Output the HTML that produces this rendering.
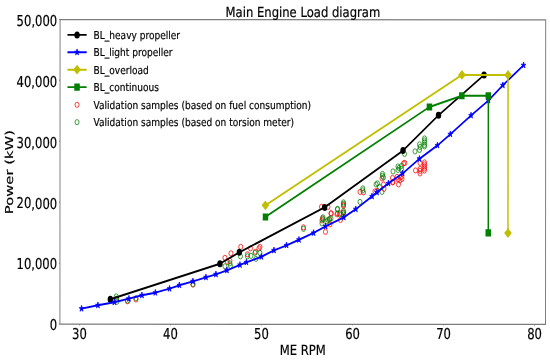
<!DOCTYPE html>
<html lang="en"><head><meta charset="utf-8"><title>Main Engine Load diagram</title>
<style>html,body{margin:0;padding:0;background:#fff;overflow:hidden}svg text{white-space:pre}</style>
</head><body>
<svg width="550" height="360" viewBox="0 0 550 360" style="display:block">
<rect width="550" height="360" fill="#fff"/>
<g transform="rotate(0.03 275 180) scale(0.775,1)" font-family="'DejaVu Sans', 'Liberation Sans', sans-serif" fill="#000" stroke="none">
<circle cx="150.45" cy="299.35" r="2.6" fill="none" stroke="#ff0000" stroke-width="0.85" stroke-opacity="1"/>
<circle cx="164.52" cy="301.35" r="2.6" fill="none" stroke="#ff0000" stroke-width="0.85" stroke-opacity="1"/>
<circle cx="175.48" cy="299.55" r="2.6" fill="none" stroke="#ff0000" stroke-width="0.85" stroke-opacity="1"/>
<circle cx="249.03" cy="284.65" r="2.6" fill="none" stroke="#ff0000" stroke-width="0.85" stroke-opacity="1"/>
<circle cx="290.32" cy="257.85" r="2.6" fill="none" stroke="#ff0000" stroke-width="0.85" stroke-opacity="1"/>
<circle cx="298.06" cy="253.35" r="2.6" fill="none" stroke="#ff0000" stroke-width="0.85" stroke-opacity="1"/>
<circle cx="296.77" cy="260.85" r="2.6" fill="none" stroke="#ff0000" stroke-width="0.85" stroke-opacity="1"/>
<circle cx="293.55" cy="261.85" r="2.6" fill="none" stroke="#ff0000" stroke-width="0.85" stroke-opacity="1"/>
<circle cx="310.71" cy="246.85" r="2.6" fill="none" stroke="#ff0000" stroke-width="0.85" stroke-opacity="1"/>
<circle cx="323.23" cy="248.35" r="2.6" fill="none" stroke="#ff0000" stroke-width="0.85" stroke-opacity="1"/>
<circle cx="319.35" cy="254.35" r="2.6" fill="none" stroke="#ff0000" stroke-width="0.85" stroke-opacity="1"/>
<circle cx="329.68" cy="251.85" r="2.6" fill="none" stroke="#ff0000" stroke-width="0.85" stroke-opacity="1"/>
<circle cx="335.48" cy="246.85" r="2.6" fill="none" stroke="#ff0000" stroke-width="0.85" stroke-opacity="1"/>
<circle cx="334.19" cy="248.35" r="2.6" fill="none" stroke="#ff0000" stroke-width="0.85" stroke-opacity="1"/>
<circle cx="391.61" cy="227.35" r="2.6" fill="none" stroke="#ff0000" stroke-width="0.85" stroke-opacity="1"/>
<circle cx="420" cy="231.85" r="2.6" fill="none" stroke="#ff0000" stroke-width="0.85" stroke-opacity="1"/>
<circle cx="415.48" cy="220.35" r="2.6" fill="none" stroke="#ff0000" stroke-width="0.85" stroke-opacity="1"/>
<circle cx="416.13" cy="218.35" r="2.6" fill="none" stroke="#ff0000" stroke-width="0.85" stroke-opacity="1"/>
<circle cx="414.84" cy="206.85" r="2.6" fill="none" stroke="#ff0000" stroke-width="0.85" stroke-opacity="1"/>
<circle cx="423.23" cy="206.85" r="2.6" fill="none" stroke="#ff0000" stroke-width="0.85" stroke-opacity="1"/>
<circle cx="427.35" cy="213.35" r="2.6" fill="none" stroke="#ff0000" stroke-width="0.85" stroke-opacity="1"/>
<circle cx="425.81" cy="224.35" r="2.6" fill="none" stroke="#ff0000" stroke-width="0.85" stroke-opacity="1"/>
<circle cx="425.16" cy="219.85" r="2.6" fill="none" stroke="#ff0000" stroke-width="0.85" stroke-opacity="1"/>
<circle cx="434.84" cy="214.35" r="2.6" fill="none" stroke="#ff0000" stroke-width="0.85" stroke-opacity="1"/>
<circle cx="439.35" cy="219.85" r="2.6" fill="none" stroke="#ff0000" stroke-width="0.85" stroke-opacity="1"/>
<circle cx="443.23" cy="205.85" r="2.6" fill="none" stroke="#ff0000" stroke-width="0.85" stroke-opacity="1"/>
<circle cx="443.23" cy="212.35" r="2.6" fill="none" stroke="#ff0000" stroke-width="0.85" stroke-opacity="1"/>
<circle cx="427.1" cy="213.35" r="2.6" fill="none" stroke="#ff0000" stroke-width="0.85" stroke-opacity="1"/>
<circle cx="435.48" cy="213.35" r="2.6" fill="none" stroke="#ff0000" stroke-width="0.85" stroke-opacity="1"/>
<circle cx="438.71" cy="213.35" r="2.6" fill="none" stroke="#ff0000" stroke-width="0.85" stroke-opacity="1"/>
<circle cx="443.23" cy="204.85" r="2.6" fill="none" stroke="#ff0000" stroke-width="0.85" stroke-opacity="1"/>
<circle cx="464.52" cy="191.85" r="2.6" fill="none" stroke="#ff0000" stroke-width="0.85" stroke-opacity="1"/>
<circle cx="469.03" cy="192.35" r="2.6" fill="none" stroke="#ff0000" stroke-width="0.85" stroke-opacity="1"/>
<circle cx="483.87" cy="191.35" r="2.6" fill="none" stroke="#ff0000" stroke-width="0.85" stroke-opacity="1"/>
<circle cx="486.45" cy="190.85" r="2.6" fill="none" stroke="#ff0000" stroke-width="0.85" stroke-opacity="1"/>
<circle cx="494.84" cy="184.35" r="2.6" fill="none" stroke="#ff0000" stroke-width="0.85" stroke-opacity="1"/>
<circle cx="495.48" cy="188.85" r="2.6" fill="none" stroke="#ff0000" stroke-width="0.85" stroke-opacity="1"/>
<circle cx="492.9" cy="178.35" r="2.6" fill="none" stroke="#ff0000" stroke-width="0.85" stroke-opacity="1"/>
<circle cx="506.45" cy="177.85" r="2.6" fill="none" stroke="#ff0000" stroke-width="0.85" stroke-opacity="1"/>
<circle cx="507.1" cy="181.85" r="2.6" fill="none" stroke="#ff0000" stroke-width="0.85" stroke-opacity="1"/>
<circle cx="513.55" cy="179.35" r="2.6" fill="none" stroke="#ff0000" stroke-width="0.85" stroke-opacity="1"/>
<circle cx="516.13" cy="180.35" r="2.6" fill="none" stroke="#ff0000" stroke-width="0.85" stroke-opacity="1"/>
<circle cx="518.71" cy="178.85" r="2.6" fill="none" stroke="#ff0000" stroke-width="0.85" stroke-opacity="1"/>
<circle cx="514.19" cy="184.35" r="2.6" fill="none" stroke="#ff0000" stroke-width="0.85" stroke-opacity="1"/>
<circle cx="520.65" cy="163.35" r="2.6" fill="none" stroke="#ff0000" stroke-width="0.85" stroke-opacity="1"/>
<circle cx="506.45" cy="182.35" r="2.6" fill="none" stroke="#ff0000" stroke-width="0.85" stroke-opacity="1"/>
<circle cx="517.42" cy="176.85" r="2.6" fill="none" stroke="#ff0000" stroke-width="0.85" stroke-opacity="1"/>
<circle cx="512.26" cy="176.85" r="2.6" fill="none" stroke="#ff0000" stroke-width="0.85" stroke-opacity="1"/>
<circle cx="522.32" cy="162.85" r="2.6" fill="none" stroke="#ff0000" stroke-width="0.85" stroke-opacity="1"/>
<circle cx="541.94" cy="162.85" r="2.6" fill="none" stroke="#ff0000" stroke-width="0.85" stroke-opacity="1"/>
<circle cx="547.74" cy="162.35" r="2.6" fill="none" stroke="#ff0000" stroke-width="0.85" stroke-opacity="1"/>
<circle cx="547.74" cy="164.35" r="2.6" fill="none" stroke="#ff0000" stroke-width="0.85" stroke-opacity="1"/>
<circle cx="547.74" cy="166.35" r="2.6" fill="none" stroke="#ff0000" stroke-width="0.85" stroke-opacity="1"/>
<circle cx="547.74" cy="168.35" r="2.6" fill="none" stroke="#ff0000" stroke-width="0.85" stroke-opacity="1"/>
<circle cx="547.74" cy="170.35" r="2.6" fill="none" stroke="#ff0000" stroke-width="0.85" stroke-opacity="1"/>
<circle cx="536.13" cy="170.35" r="2.6" fill="none" stroke="#ff0000" stroke-width="0.85" stroke-opacity="1"/>
<circle cx="541.94" cy="168.85" r="2.6" fill="none" stroke="#ff0000" stroke-width="0.85" stroke-opacity="1"/>
<circle cx="541.94" cy="170.85" r="2.6" fill="none" stroke="#ff0000" stroke-width="0.85" stroke-opacity="1"/>
<circle cx="541.94" cy="173.35" r="2.6" fill="none" stroke="#ff0000" stroke-width="0.85" stroke-opacity="1"/>
<circle cx="150.06" cy="296.55" r="2.6" fill="none" stroke="#008000" stroke-width="0.85" stroke-opacity="1"/>
<circle cx="150.71" cy="298.85" r="2.6" fill="none" stroke="#008000" stroke-width="0.85" stroke-opacity="1"/>
<circle cx="150.97" cy="301.85" r="2.6" fill="none" stroke="#008000" stroke-width="0.85" stroke-opacity="1"/>
<circle cx="164.52" cy="300.65" r="2.6" fill="none" stroke="#008000" stroke-width="0.85" stroke-opacity="1"/>
<circle cx="175.48" cy="298.35" r="2.6" fill="none" stroke="#008000" stroke-width="0.85" stroke-opacity="1"/>
<circle cx="249.03" cy="284.05" r="2.6" fill="none" stroke="#008000" stroke-width="0.85" stroke-opacity="1"/>
<circle cx="290.32" cy="266.35" r="2.6" fill="none" stroke="#008000" stroke-width="0.85" stroke-opacity="1"/>
<circle cx="297.42" cy="265.85" r="2.6" fill="none" stroke="#008000" stroke-width="0.85" stroke-opacity="1"/>
<circle cx="296.77" cy="263.35" r="2.6" fill="none" stroke="#008000" stroke-width="0.85" stroke-opacity="1"/>
<circle cx="310.32" cy="256.35" r="2.6" fill="none" stroke="#008000" stroke-width="0.85" stroke-opacity="1"/>
<circle cx="319.35" cy="256.35" r="2.6" fill="none" stroke="#008000" stroke-width="0.85" stroke-opacity="1"/>
<circle cx="323.87" cy="255.85" r="2.6" fill="none" stroke="#008000" stroke-width="0.85" stroke-opacity="1"/>
<circle cx="330.32" cy="258.85" r="2.6" fill="none" stroke="#008000" stroke-width="0.85" stroke-opacity="1"/>
<circle cx="335.48" cy="252.85" r="2.6" fill="none" stroke="#008000" stroke-width="0.85" stroke-opacity="1"/>
<circle cx="329.03" cy="252.85" r="2.6" fill="none" stroke="#008000" stroke-width="0.85" stroke-opacity="1"/>
<circle cx="391.61" cy="228.85" r="2.6" fill="none" stroke="#008000" stroke-width="0.85" stroke-opacity="1"/>
<circle cx="416.77" cy="217.35" r="2.6" fill="none" stroke="#008000" stroke-width="0.85" stroke-opacity="1"/>
<circle cx="416.77" cy="219.35" r="2.6" fill="none" stroke="#008000" stroke-width="0.85" stroke-opacity="1"/>
<circle cx="415.48" cy="223.35" r="2.6" fill="none" stroke="#008000" stroke-width="0.85" stroke-opacity="1"/>
<circle cx="423.23" cy="219.85" r="2.6" fill="none" stroke="#008000" stroke-width="0.85" stroke-opacity="1"/>
<circle cx="425.16" cy="218.85" r="2.6" fill="none" stroke="#008000" stroke-width="0.85" stroke-opacity="1"/>
<circle cx="427.1" cy="218.35" r="2.6" fill="none" stroke="#008000" stroke-width="0.85" stroke-opacity="1"/>
<circle cx="421.94" cy="221.35" r="2.6" fill="none" stroke="#008000" stroke-width="0.85" stroke-opacity="1"/>
<circle cx="435.48" cy="209.35" r="2.6" fill="none" stroke="#008000" stroke-width="0.85" stroke-opacity="1"/>
<circle cx="438.06" cy="214.35" r="2.6" fill="none" stroke="#008000" stroke-width="0.85" stroke-opacity="1"/>
<circle cx="443.23" cy="202.35" r="2.6" fill="none" stroke="#008000" stroke-width="0.85" stroke-opacity="1"/>
<circle cx="443.23" cy="203.85" r="2.6" fill="none" stroke="#008000" stroke-width="0.85" stroke-opacity="1"/>
<circle cx="443.23" cy="210.85" r="2.6" fill="none" stroke="#008000" stroke-width="0.85" stroke-opacity="1"/>
<circle cx="443.23" cy="212.85" r="2.6" fill="none" stroke="#008000" stroke-width="0.85" stroke-opacity="1"/>
<circle cx="443.23" cy="214.35" r="2.6" fill="none" stroke="#008000" stroke-width="0.85" stroke-opacity="1"/>
<circle cx="435.48" cy="208.85" r="2.6" fill="none" stroke="#008000" stroke-width="0.85" stroke-opacity="1"/>
<circle cx="464.52" cy="201.85" r="2.6" fill="none" stroke="#008000" stroke-width="0.85" stroke-opacity="1"/>
<circle cx="468.13" cy="188.35" r="2.6" fill="none" stroke="#008000" stroke-width="0.85" stroke-opacity="1"/>
<circle cx="468.13" cy="190.35" r="2.6" fill="none" stroke="#008000" stroke-width="0.85" stroke-opacity="1"/>
<circle cx="485.16" cy="184.35" r="2.6" fill="none" stroke="#008000" stroke-width="0.85" stroke-opacity="1"/>
<circle cx="487.1" cy="183.35" r="2.6" fill="none" stroke="#008000" stroke-width="0.85" stroke-opacity="1"/>
<circle cx="489.68" cy="186.85" r="2.6" fill="none" stroke="#008000" stroke-width="0.85" stroke-opacity="1"/>
<circle cx="492.9" cy="191.85" r="2.6" fill="none" stroke="#008000" stroke-width="0.85" stroke-opacity="1"/>
<circle cx="493.55" cy="173.85" r="2.6" fill="none" stroke="#008000" stroke-width="0.85" stroke-opacity="1"/>
<circle cx="493.55" cy="175.85" r="2.6" fill="none" stroke="#008000" stroke-width="0.85" stroke-opacity="1"/>
<circle cx="494.84" cy="177.35" r="2.6" fill="none" stroke="#008000" stroke-width="0.85" stroke-opacity="1"/>
<circle cx="507.1" cy="171.35" r="2.6" fill="none" stroke="#008000" stroke-width="0.85" stroke-opacity="1"/>
<circle cx="513.55" cy="166.35" r="2.6" fill="none" stroke="#008000" stroke-width="0.85" stroke-opacity="1"/>
<circle cx="514.84" cy="167.85" r="2.6" fill="none" stroke="#008000" stroke-width="0.85" stroke-opacity="1"/>
<circle cx="513.55" cy="169.85" r="2.6" fill="none" stroke="#008000" stroke-width="0.85" stroke-opacity="1"/>
<circle cx="518.06" cy="165.85" r="2.6" fill="none" stroke="#008000" stroke-width="0.85" stroke-opacity="1"/>
<circle cx="518.06" cy="168.85" r="2.6" fill="none" stroke="#008000" stroke-width="0.85" stroke-opacity="1"/>
<circle cx="521.94" cy="153.85" r="2.6" fill="none" stroke="#008000" stroke-width="0.85" stroke-opacity="1"/>
<circle cx="535.48" cy="151.35" r="2.6" fill="none" stroke="#008000" stroke-width="0.85" stroke-opacity="1"/>
<circle cx="541.29" cy="149.85" r="2.6" fill="none" stroke="#008000" stroke-width="0.85" stroke-opacity="1"/>
<circle cx="541.29" cy="144.35" r="2.6" fill="none" stroke="#008000" stroke-width="0.85" stroke-opacity="1"/>
<circle cx="541.94" cy="146.85" r="2.6" fill="none" stroke="#008000" stroke-width="0.85" stroke-opacity="1"/>
<circle cx="547.74" cy="138.35" r="2.6" fill="none" stroke="#008000" stroke-width="0.85" stroke-opacity="1"/>
<circle cx="547.74" cy="140.35" r="2.6" fill="none" stroke="#008000" stroke-width="0.85" stroke-opacity="1"/>
<circle cx="547.74" cy="142.35" r="2.6" fill="none" stroke="#008000" stroke-width="0.85" stroke-opacity="1"/>
<circle cx="547.74" cy="144.85" r="2.6" fill="none" stroke="#008000" stroke-width="0.85" stroke-opacity="1"/>
<circle cx="547.74" cy="146.35" r="2.6" fill="none" stroke="#008000" stroke-width="0.85" stroke-opacity="1"/>
<polyline fill="none" stroke="#000" stroke-width="1.9" stroke-linejoin="round" points="142.45,299.35 283.87,263.75 308.9,252.35 418.84,207.35 520,150.55 565.81,115.15 624.52,74.85"/>
<circle cx="142.45" cy="299.35" r="3.5" fill="#000"/>
<circle cx="283.87" cy="263.75" r="3.5" fill="#000"/>
<circle cx="308.9" cy="252.35" r="3.5" fill="#000"/>
<circle cx="418.84" cy="207.35" r="3.5" fill="#000"/>
<circle cx="520" cy="150.55" r="3.5" fill="#000"/>
<circle cx="565.81" cy="115.15" r="3.5" fill="#000"/>
<circle cx="624.52" cy="74.85" r="3.5" fill="#000"/>
<polyline fill="none" stroke="#0000ff" stroke-width="1.9" stroke-linejoin="round" points="105.29,308.75 126.45,305.35 147.61,302.35 166.45,298.75 183.23,295.35 200.52,292.75 218.84,288.75 231.48,285.35 249.03,281.35 265.81,277.35 278.71,274.35 292.9,270.35 309.68,264.95 317.94,262.35 337.29,256.75 353.55,250.35 369.81,245.35 385.81,239.75 404.65,232.95 420.13,226.35 443.61,217.35 459.1,209.15 480,196.35 486.45,192.35 501.16,183.35 519.48,173.35 541.16,158.75 564.39,145.35 581.03,134.15 607.74,115.35 630.19,100.35 648.77,85.15 675.48,65.15"/>
<polygon fill="#0000ff" stroke="#0000ff" stroke-width="0.8" stroke-linejoin="miter" points="105.29,305.45 106.03,307.73 108.43,307.73 106.49,309.14 107.23,311.42 105.29,310.01 103.35,311.42 104.09,309.14 102.15,307.73 104.55,307.73"/>
<polygon fill="#0000ff" stroke="#0000ff" stroke-width="0.8" stroke-linejoin="miter" points="126.45,302.05 127.19,304.33 129.59,304.33 127.65,305.74 128.39,308.02 126.45,306.61 124.51,308.02 125.25,305.74 123.31,304.33 125.71,304.33"/>
<polygon fill="#0000ff" stroke="#0000ff" stroke-width="0.8" stroke-linejoin="miter" points="147.61,299.05 148.35,301.33 150.75,301.33 148.81,302.74 149.55,305.02 147.61,303.61 145.67,305.02 146.41,302.74 144.47,301.33 146.87,301.33"/>
<polygon fill="#0000ff" stroke="#0000ff" stroke-width="0.8" stroke-linejoin="miter" points="166.45,295.45 167.19,297.73 169.59,297.73 167.65,299.14 168.39,301.42 166.45,300.01 164.51,301.42 165.25,299.14 163.31,297.73 165.71,297.73"/>
<polygon fill="#0000ff" stroke="#0000ff" stroke-width="0.8" stroke-linejoin="miter" points="183.23,292.05 183.97,294.33 186.36,294.33 184.42,295.74 185.17,298.02 183.23,296.61 181.29,298.02 182.03,295.74 180.09,294.33 182.48,294.33"/>
<polygon fill="#0000ff" stroke="#0000ff" stroke-width="0.8" stroke-linejoin="miter" points="200.52,289.45 201.26,291.73 203.65,291.73 201.71,293.14 202.46,295.42 200.52,294.01 198.58,295.42 199.32,293.14 197.38,291.73 199.78,291.73"/>
<polygon fill="#0000ff" stroke="#0000ff" stroke-width="0.8" stroke-linejoin="miter" points="218.84,285.45 219.58,287.73 221.98,287.73 220.04,289.14 220.78,291.42 218.84,290.01 216.9,291.42 217.64,289.14 215.7,287.73 218.1,287.73"/>
<polygon fill="#0000ff" stroke="#0000ff" stroke-width="0.8" stroke-linejoin="miter" points="231.48,282.05 232.22,284.33 234.62,284.33 232.68,285.74 233.42,288.02 231.48,286.61 229.54,288.02 230.29,285.74 228.35,284.33 230.74,284.33"/>
<polygon fill="#0000ff" stroke="#0000ff" stroke-width="0.8" stroke-linejoin="miter" points="249.03,278.05 249.77,280.33 252.17,280.33 250.23,281.74 250.97,284.02 249.03,282.61 247.09,284.02 247.83,281.74 245.89,280.33 248.29,280.33"/>
<polygon fill="#0000ff" stroke="#0000ff" stroke-width="0.8" stroke-linejoin="miter" points="265.81,274.05 266.55,276.33 268.94,276.33 267.01,277.74 267.75,280.02 265.81,278.61 263.87,280.02 264.61,277.74 262.67,276.33 265.07,276.33"/>
<polygon fill="#0000ff" stroke="#0000ff" stroke-width="0.8" stroke-linejoin="miter" points="278.71,271.05 279.45,273.33 281.85,273.33 279.91,274.74 280.65,277.02 278.71,275.61 276.77,277.02 277.51,274.74 275.57,273.33 277.97,273.33"/>
<polygon fill="#0000ff" stroke="#0000ff" stroke-width="0.8" stroke-linejoin="miter" points="292.9,267.05 293.64,269.33 296.04,269.33 294.1,270.74 294.84,273.02 292.9,271.61 290.96,273.02 291.7,270.74 289.76,269.33 292.16,269.33"/>
<polygon fill="#0000ff" stroke="#0000ff" stroke-width="0.8" stroke-linejoin="miter" points="309.68,261.65 310.42,263.93 312.82,263.93 310.88,265.34 311.62,267.62 309.68,266.21 307.74,267.62 308.48,265.34 306.54,263.93 308.94,263.93"/>
<polygon fill="#0000ff" stroke="#0000ff" stroke-width="0.8" stroke-linejoin="miter" points="317.94,259.05 318.68,261.33 321.07,261.33 319.13,262.74 319.88,265.02 317.94,263.61 316,265.02 316.74,262.74 314.8,261.33 317.19,261.33"/>
<polygon fill="#0000ff" stroke="#0000ff" stroke-width="0.8" stroke-linejoin="miter" points="337.29,253.45 338.03,255.73 340.43,255.73 338.49,257.14 339.23,259.42 337.29,258.01 335.35,259.42 336.09,257.14 334.15,255.73 336.55,255.73"/>
<polygon fill="#0000ff" stroke="#0000ff" stroke-width="0.8" stroke-linejoin="miter" points="353.55,247.05 354.29,249.33 356.69,249.33 354.75,250.74 355.49,253.02 353.55,251.61 351.61,253.02 352.35,250.74 350.41,249.33 352.81,249.33"/>
<polygon fill="#0000ff" stroke="#0000ff" stroke-width="0.8" stroke-linejoin="miter" points="369.81,242.05 370.55,244.33 372.94,244.33 371.01,245.74 371.75,248.02 369.81,246.61 367.87,248.02 368.61,245.74 366.67,244.33 369.07,244.33"/>
<polygon fill="#0000ff" stroke="#0000ff" stroke-width="0.8" stroke-linejoin="miter" points="385.81,236.45 386.55,238.73 388.94,238.73 387.01,240.14 387.75,242.42 385.81,241.01 383.87,242.42 384.61,240.14 382.67,238.73 385.07,238.73"/>
<polygon fill="#0000ff" stroke="#0000ff" stroke-width="0.8" stroke-linejoin="miter" points="404.65,229.65 405.39,231.93 407.78,231.93 405.84,233.34 406.58,235.62 404.65,234.21 402.71,235.62 403.45,233.34 401.51,231.93 403.9,231.93"/>
<polygon fill="#0000ff" stroke="#0000ff" stroke-width="0.8" stroke-linejoin="miter" points="420.13,223.05 420.87,225.33 423.27,225.33 421.33,226.74 422.07,229.02 420.13,227.61 418.19,229.02 418.93,226.74 416.99,225.33 419.39,225.33"/>
<polygon fill="#0000ff" stroke="#0000ff" stroke-width="0.8" stroke-linejoin="miter" points="443.61,214.05 444.35,216.33 446.75,216.33 444.81,217.74 445.55,220.02 443.61,218.61 441.67,220.02 442.41,217.74 440.47,216.33 442.87,216.33"/>
<polygon fill="#0000ff" stroke="#0000ff" stroke-width="0.8" stroke-linejoin="miter" points="459.1,205.85 459.84,208.13 462.24,208.13 460.3,209.54 461.04,211.82 459.1,210.41 457.16,211.82 457.9,209.54 455.96,208.13 458.36,208.13"/>
<polygon fill="#0000ff" stroke="#0000ff" stroke-width="0.8" stroke-linejoin="miter" points="480,193.05 480.74,195.33 483.14,195.33 481.2,196.74 481.94,199.02 480,197.61 478.06,199.02 478.8,196.74 476.86,195.33 479.26,195.33"/>
<polygon fill="#0000ff" stroke="#0000ff" stroke-width="0.8" stroke-linejoin="miter" points="486.45,189.05 487.19,191.33 489.59,191.33 487.65,192.74 488.39,195.02 486.45,193.61 484.51,195.02 485.25,192.74 483.31,191.33 485.71,191.33"/>
<polygon fill="#0000ff" stroke="#0000ff" stroke-width="0.8" stroke-linejoin="miter" points="501.16,180.05 501.9,182.33 504.3,182.33 502.36,183.74 503.1,186.02 501.16,184.61 499.22,186.02 499.96,183.74 498.02,182.33 500.42,182.33"/>
<polygon fill="#0000ff" stroke="#0000ff" stroke-width="0.8" stroke-linejoin="miter" points="519.48,170.05 520.22,172.33 522.62,172.33 520.68,173.74 521.42,176.02 519.48,174.61 517.54,176.02 518.29,173.74 516.35,172.33 518.74,172.33"/>
<polygon fill="#0000ff" stroke="#0000ff" stroke-width="0.8" stroke-linejoin="miter" points="541.16,155.45 541.9,157.73 544.3,157.73 542.36,159.14 543.1,161.42 541.16,160.01 539.22,161.42 539.96,159.14 538.02,157.73 540.42,157.73"/>
<polygon fill="#0000ff" stroke="#0000ff" stroke-width="0.8" stroke-linejoin="miter" points="564.39,142.05 565.13,144.33 567.53,144.33 565.59,145.74 566.33,148.02 564.39,146.61 562.45,148.02 563.19,145.74 561.25,144.33 563.65,144.33"/>
<polygon fill="#0000ff" stroke="#0000ff" stroke-width="0.8" stroke-linejoin="miter" points="581.03,130.85 581.77,133.13 584.17,133.13 582.23,134.54 582.97,136.82 581.03,135.41 579.09,136.82 579.83,134.54 577.89,133.13 580.29,133.13"/>
<polygon fill="#0000ff" stroke="#0000ff" stroke-width="0.8" stroke-linejoin="miter" points="607.74,112.05 608.48,114.33 610.88,114.33 608.94,115.74 609.68,118.02 607.74,116.61 605.8,118.02 606.54,115.74 604.6,114.33 607,114.33"/>
<polygon fill="#0000ff" stroke="#0000ff" stroke-width="0.8" stroke-linejoin="miter" points="630.19,97.05 630.93,99.33 633.33,99.33 631.39,100.74 632.13,103.02 630.19,101.61 628.25,103.02 628.99,100.74 627.06,99.33 629.45,99.33"/>
<polygon fill="#0000ff" stroke="#0000ff" stroke-width="0.8" stroke-linejoin="miter" points="648.77,81.85 649.52,84.13 651.91,84.13 649.97,85.54 650.71,87.82 648.77,86.41 646.83,87.82 647.58,85.54 645.64,84.13 648.03,84.13"/>
<polygon fill="#0000ff" stroke="#0000ff" stroke-width="0.8" stroke-linejoin="miter" points="675.48,61.85 676.22,64.13 678.62,64.13 676.68,65.54 677.42,67.82 675.48,66.41 673.54,67.82 674.29,65.54 672.35,64.13 674.74,64.13"/>
<polyline fill="none" stroke="#bfbf00" stroke-width="1.9" stroke-linejoin="round" points="342.45,205.35 596,74.85 655.48,74.85 655.48,232.95"/>
<polygon fill="#bfbf00" points="342.45,200.45 347.35,205.35 342.45,210.25 337.55,205.35"/>
<polygon fill="#bfbf00" points="596,69.95 600.9,74.85 596,79.75 591.1,74.85"/>
<polygon fill="#bfbf00" points="655.48,69.95 660.38,74.85 655.48,79.75 650.58,74.85"/>
<polygon fill="#bfbf00" points="655.48,228.05 660.38,232.95 655.48,237.85 650.58,232.95"/>
<polyline fill="none" stroke="#008000" stroke-width="1.9" stroke-linejoin="round" points="342.58,216.95 554.06,106.95 595.87,95.65 630.06,95.65 630.06,232.75"/>
<rect x="339.03" y="213.4" width="7.1" height="7.1" fill="#008000"/>
<rect x="550.51" y="103.4" width="7.1" height="7.1" fill="#008000"/>
<rect x="592.32" y="92.1" width="7.1" height="7.1" fill="#008000"/>
<rect x="626.51" y="92.1" width="7.1" height="7.1" fill="#008000"/>
<rect x="626.51" y="229.2" width="7.1" height="7.1" fill="#008000"/>
<rect x="77.42" y="19.65" width="626.58" height="304.65" fill="none" stroke="#7c7c7c" stroke-width="1.25"/>
<line x1="102.58" y1="324.3" x2="102.58" y2="325.5" stroke="#7c7c7c" stroke-width="1"/>
<text x="102.58" y="339.05" font-size="15" text-anchor="middle" stroke="#000" stroke-width="0.2">30</text>
<line x1="220.05" y1="324.3" x2="220.05" y2="325.5" stroke="#7c7c7c" stroke-width="1"/>
<text x="220.05" y="339.05" font-size="15" text-anchor="middle" stroke="#000" stroke-width="0.2">40</text>
<line x1="337.52" y1="324.3" x2="337.52" y2="325.5" stroke="#7c7c7c" stroke-width="1"/>
<text x="337.52" y="339.05" font-size="15" text-anchor="middle" stroke="#000" stroke-width="0.2">50</text>
<line x1="454.99" y1="324.3" x2="454.99" y2="325.5" stroke="#7c7c7c" stroke-width="1"/>
<text x="454.99" y="339.05" font-size="15" text-anchor="middle" stroke="#000" stroke-width="0.2">60</text>
<line x1="572.46" y1="324.3" x2="572.46" y2="325.5" stroke="#7c7c7c" stroke-width="1"/>
<text x="572.46" y="339.05" font-size="15" text-anchor="middle" stroke="#000" stroke-width="0.2">70</text>
<line x1="689.94" y1="324.3" x2="689.94" y2="325.5" stroke="#7c7c7c" stroke-width="1"/>
<text x="689.94" y="339.05" font-size="15" text-anchor="middle" stroke="#000" stroke-width="0.2">80</text>
<line x1="76.12" y1="324.3" x2="77.42" y2="324.3" stroke="#7c7c7c" stroke-width="1"/>
<text x="73.81" y="330.55" font-size="15" text-anchor="end" stroke="#000" stroke-width="0.2">0</text>
<line x1="76.12" y1="263.34" x2="77.42" y2="263.34" stroke="#7c7c7c" stroke-width="1"/>
<text x="73.81" y="269.59" font-size="15" text-anchor="end" stroke="#000" stroke-width="0.2">10,000</text>
<line x1="76.12" y1="202.38" x2="77.42" y2="202.38" stroke="#7c7c7c" stroke-width="1"/>
<text x="73.81" y="208.63" font-size="15" text-anchor="end" stroke="#000" stroke-width="0.2">20,000</text>
<line x1="76.12" y1="141.42" x2="77.42" y2="141.42" stroke="#7c7c7c" stroke-width="1"/>
<text x="73.81" y="147.67" font-size="15" text-anchor="end" stroke="#000" stroke-width="0.2">30,000</text>
<line x1="76.12" y1="80.46" x2="77.42" y2="80.46" stroke="#7c7c7c" stroke-width="1"/>
<text x="73.81" y="86.71" font-size="15" text-anchor="end" stroke="#000" stroke-width="0.2">40,000</text>
<line x1="76.12" y1="19.5" x2="77.42" y2="19.5" stroke="#7c7c7c" stroke-width="1"/>
<text x="73.81" y="25.75" font-size="15" text-anchor="end" stroke="#000" stroke-width="0.2">50,000</text>
<text transform="translate(390.71,355.3) scale(1.0638297872340425,1)" font-size="14.1" text-anchor="middle" stroke="#000" stroke-width="0.2">ME RPM</text>
<text transform="translate(390.71,17) scale(1.079136690647482,1)" font-size="13.9" text-anchor="middle" stroke="#000" stroke-width="0.2">Main Engine Load diagram</text>
<text transform="translate(16.9,172.3) rotate(-90) scale(1.0496,1)" font-size="14.1" text-anchor="middle" stroke="#000" stroke-width="0.2">Power (kW)</text>
<polyline fill="none" stroke="#000" stroke-width="1.9" stroke-linejoin="round" points="86.97,35 111.74,35"/>
<circle cx="99.35" cy="35" r="3.5" fill="#000"/>
<text transform="translate(120.65,39) scale(1.0706422018348623,1)" font-size="10.9" text-anchor="start" stroke="#000" stroke-width="0.2">BL_heavy propeller</text>
<polyline fill="none" stroke="#0000ff" stroke-width="1.9" stroke-linejoin="round" points="86.97,52.4 111.74,52.4"/>
<polygon fill="#0000ff" stroke="#0000ff" stroke-width="0.8" stroke-linejoin="miter" points="99.35,49.1 100.1,51.38 102.49,51.38 100.55,52.79 101.29,55.07 99.35,53.66 97.42,55.07 98.16,52.79 96.22,51.38 98.61,51.38"/>
<text transform="translate(120.65,56.4) scale(1.0706422018348623,1)" font-size="10.9" text-anchor="start" stroke="#000" stroke-width="0.2">BL_light propeller</text>
<polyline fill="none" stroke="#bfbf00" stroke-width="1.9" stroke-linejoin="round" points="86.97,69.8 111.74,69.8"/>
<polygon fill="#bfbf00" points="99.35,64.9 104.25,69.8 99.35,74.7 94.45,69.8"/>
<text transform="translate(120.65,73.8) scale(1.0706422018348623,1)" font-size="10.9" text-anchor="start" stroke="#000" stroke-width="0.2">BL_overload</text>
<polyline fill="none" stroke="#008000" stroke-width="1.9" stroke-linejoin="round" points="86.97,87.2 111.74,87.2"/>
<rect x="95.8" y="83.65" width="7.1" height="7.1" fill="#008000"/>
<text transform="translate(120.65,91.2) scale(1.0706422018348623,1)" font-size="10.9" text-anchor="start" stroke="#000" stroke-width="0.2">BL_continuous</text>
<circle cx="99.35" cy="104.9" r="2.6" fill="none" stroke="#ff0000" stroke-width="0.85" stroke-opacity="1"/>
<text transform="translate(120.65,108.6) scale(1.0706422018348623,1)" font-size="10.9" text-anchor="start" stroke="#000" stroke-width="0.2">Validation samples (based on fuel consumption)</text>
<circle cx="99.35" cy="122.3" r="2.6" fill="none" stroke="#008000" stroke-width="0.85" stroke-opacity="1"/>
<text transform="translate(120.65,126) scale(1.0706422018348623,1)" font-size="10.9" text-anchor="start" stroke="#000" stroke-width="0.2">Validation samples (based on torsion meter)</text>
</g></svg>
</body></html>
